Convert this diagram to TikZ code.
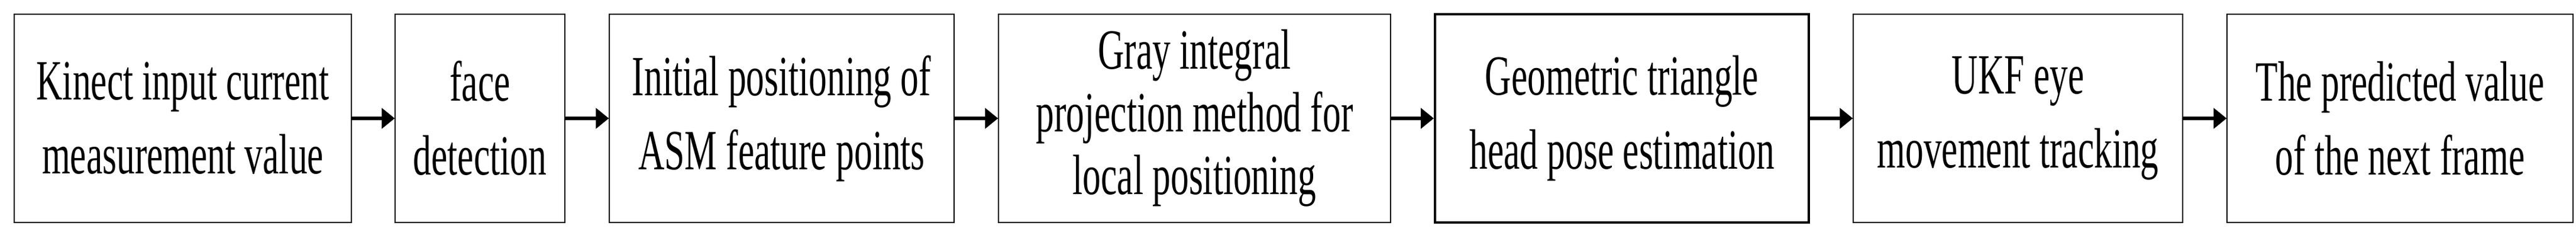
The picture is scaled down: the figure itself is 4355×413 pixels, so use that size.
\documentclass[tikz,border=0pt]{standalone}
\usepackage{fontspec}
\setmainfont{Liberation Serif}[FakeStretch=0.64]
\usetikzlibrary{arrows.meta}
\begin{document}
\begin{tikzpicture}[x=1pt,y=1pt,
  box/.style={draw,line width=1.3pt,minimum height=352pt,align=center,inner sep=0pt,
    font=\fontsize{96}{125}\selectfont},
  arr/.style={line width=6pt,-{Triangle[length=22pt,width=34pt]}}]
\useasboundingbox (0,0) rectangle (4355,413);
\node[box,minimum width=570pt] (a) at (309,213) {Kinect input current\\measurement value};
\node[box,minimum width=287pt] (b) at (811.5,213) {face\\detection};
\node[box,minimum width=583pt] (c) at (1321.5,213) {Initial positioning of\\ASM feature points};
\node[box,minimum width=663pt,font=\fontsize{96}{106}\selectfont] (d) at (2019.5,213) {Gray integral\\projection method for\\local positioning};
\node[box,minimum width=632pt,line width=4pt] (e) at (2742,213) {Geometric triangle\\head pose estimation};
\node[box,minimum width=557pt] (f) at (3411.5,213) {UKF eye\\movement tracking};
\node[box,minimum width=585pt] (g) at (4057.5,213) {The predicted value\\of the next frame};
\draw[arr] (a) -- (b);
\draw[arr] (b) -- (c);
\draw[arr] (c) -- (d);
\draw[arr] (d) -- (e);
\draw[arr] (e) -- (f);
\draw[arr] (f) -- (g);
\end{tikzpicture}
\end{document}
